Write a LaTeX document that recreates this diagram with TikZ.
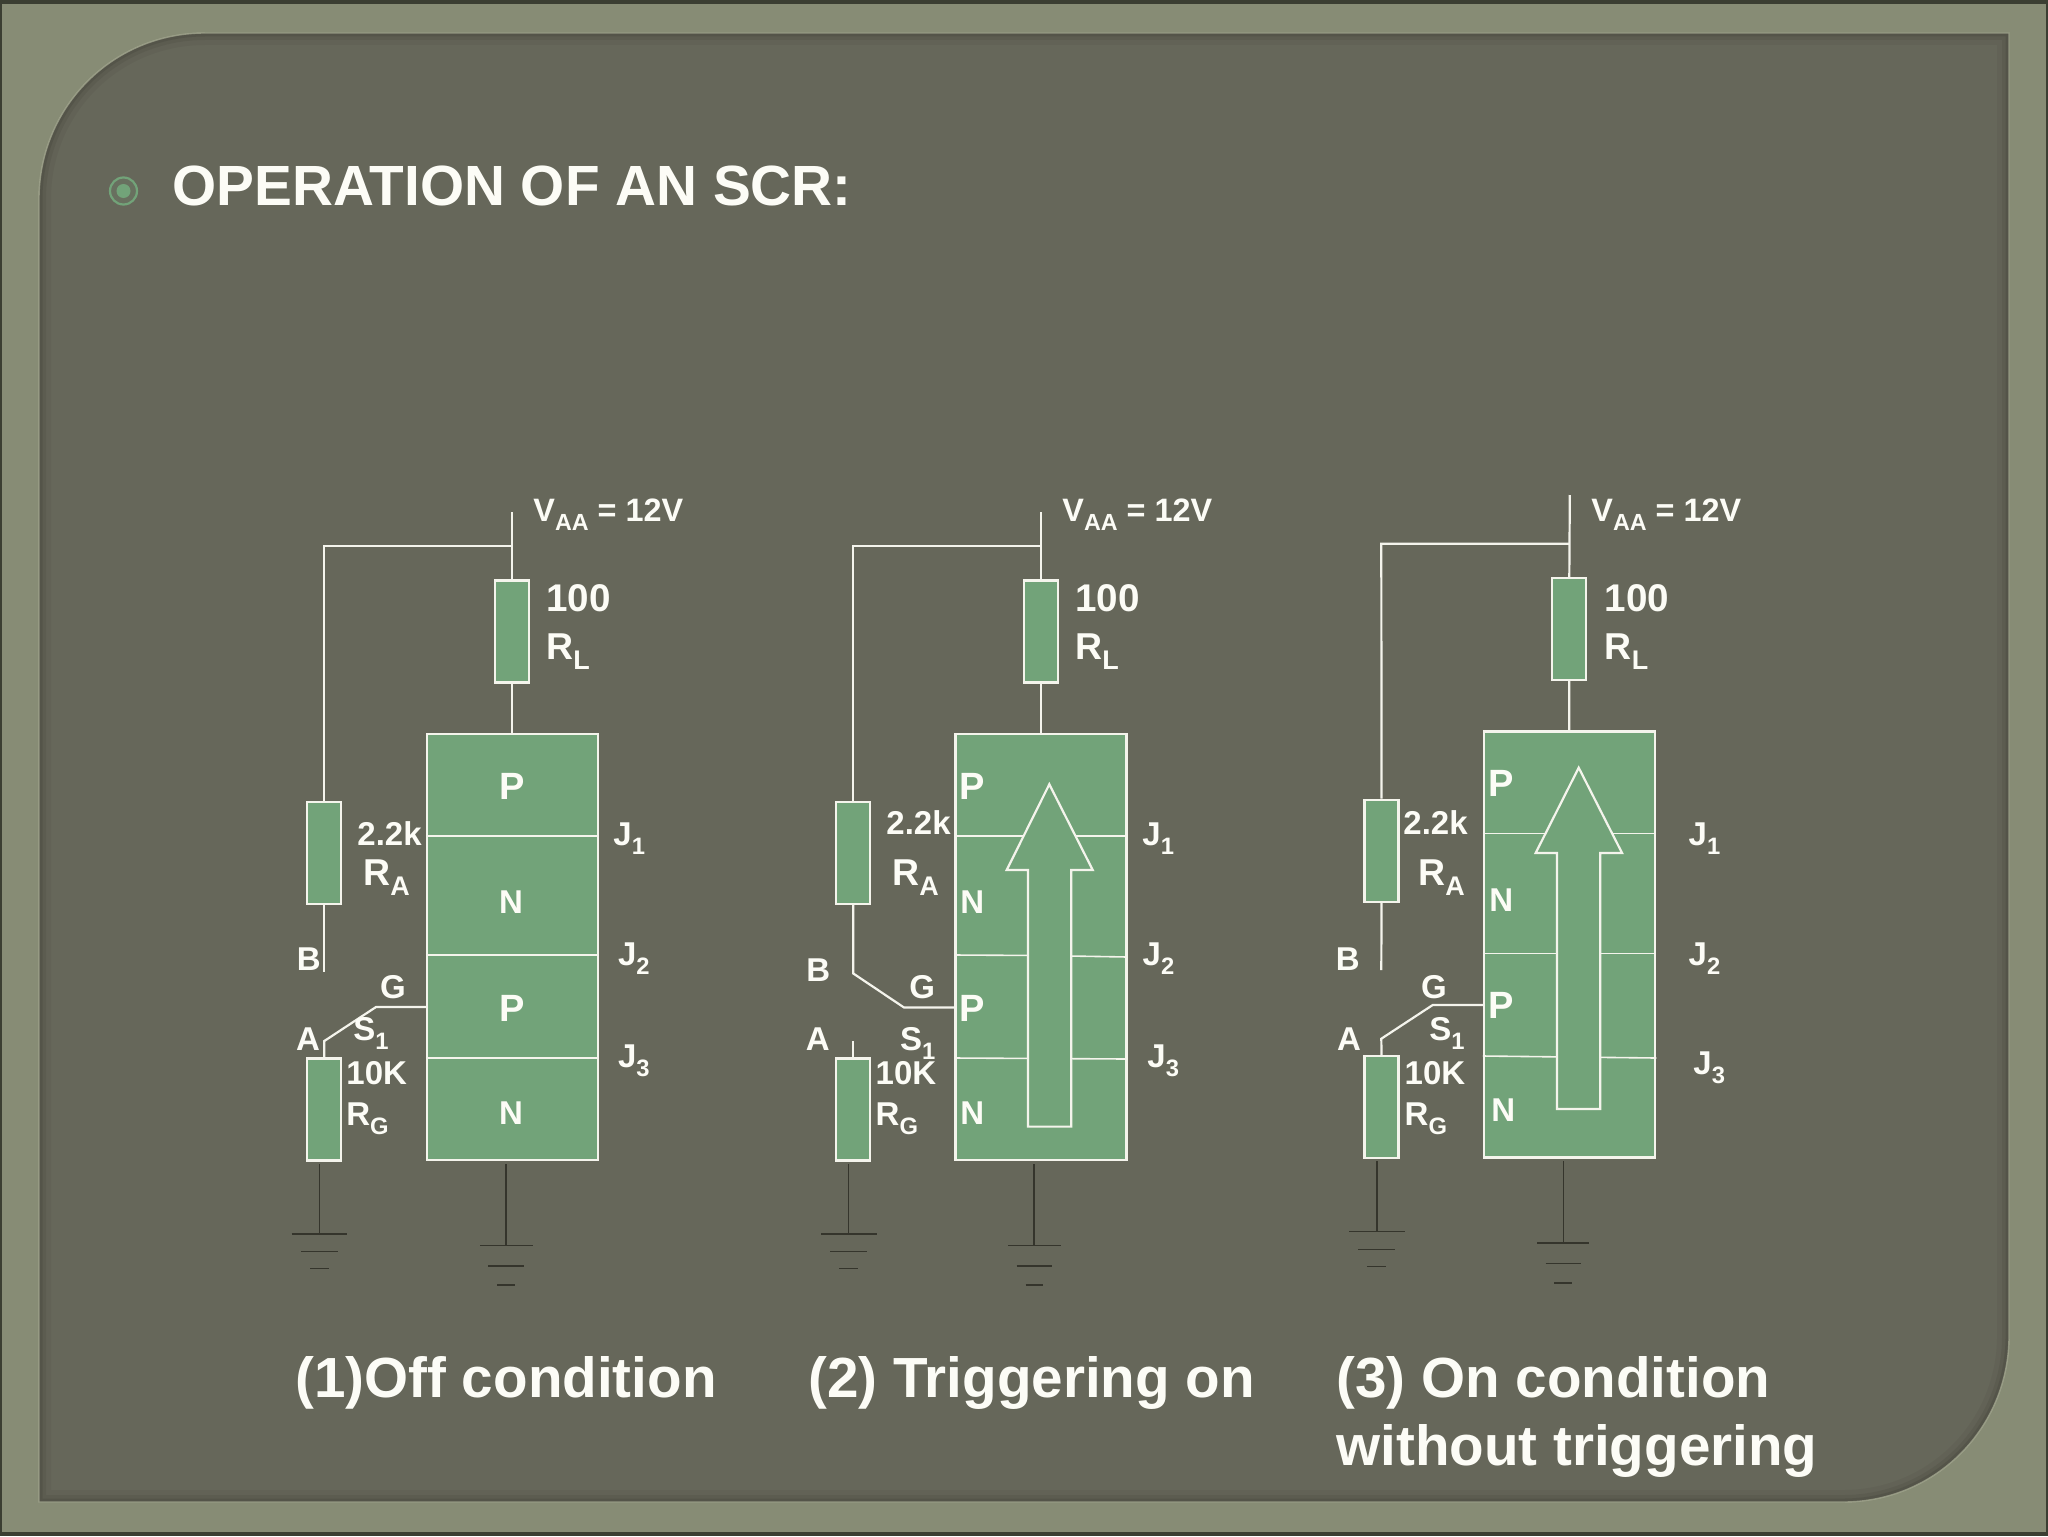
\documentclass[tikz,border=0pt]{standalone}
\usepackage{fontspec}
\usepackage{graphicx}
\setmainfont{Liberation Sans}
\definecolor{framec}{HTML}{878C75}
\definecolor{panelc}{HTML}{66675A}
\definecolor{edgec}{HTML}{A6AA92}
\definecolor{darkc}{HTML}{3B3E32}
\definecolor{greenc}{HTML}{72A379}
\definecolor{wirec}{HTML}{F4F4EC}
\definecolor{txtc}{HTML}{FCFCF6}
\definecolor{gndc}{HTML}{35352C}
\newcommand\lowtxt[1]{\raisebox{-.28em}{\scalebox{.72}{#1}}}
\newcommand\panelshape{(39,199) .. controls (39,107.3) and (112.3,33) .. (205,33) -- (2009,33) -- (2009,1336) .. controls (2009,1427.7) and (1935.7,1502) .. (1843,1502) -- (39,1502) -- cycle}
\tikzset{
  x=0.5pt,y=-0.5pt,
  wire/.style={draw=wirec,line width=1.1pt},
  thinline/.style={draw=wirec,line width=0.8pt},
  gnd/.style={draw=gndc,line width=0.55pt},
  res/.style={draw=wirec,fill=greenc,line width=1.1pt,inner sep=0pt,minimum width=17pt,minimum height=51pt},
  scrbox/.style={draw=wirec,fill=greenc,line width=1.2pt,inner sep=0pt,minimum width=85.5pt,minimum height=213pt},
  flow/.style={draw=wirec,fill=greenc,line width=1.1pt,line join=miter},
  lab/.style={anchor=base west,inner sep=0pt,text=txtc,font=\bfseries\fontsize{16.5}{18}\selectfont},
  supply/.style={lab,font=\bfseries\fontsize{16.2}{18}\selectfont},
  big/.style={lab,font=\bfseries\fontsize{19.3}{20}\selectfont},
  rname/.style={lab,font=\bfseries\fontsize{18.7}{20}\selectfont},
  layerp/.style={lab,font=\bfseries\fontsize{19}{20}\selectfont},
  layern/.style={lab,font=\bfseries\fontsize{16.5}{18}\selectfont},
  caption/.style={lab,font=\bfseries\fontsize{28.3}{32}\selectfont},
  heading/.style={lab,font=\bfseries\fontsize{28.35}{32}\selectfont},
}
\begin{document}
\begin{tikzpicture}
\useasboundingbox (0,0) rectangle (2048,1536);
% slide background
\fill[darkc] (0,0) rectangle (2048,1536);
\fill[framec] (2,4) rectangle (2046,1532);
\fill[panelc] \panelshape;
\begin{scope}
  \clip \panelshape;
  \draw[black,opacity=.04,line width=12pt] \panelshape;
  \draw[black,opacity=.06,line width=7pt] \panelshape;
  \draw[black,opacity=.08,line width=3.5pt] \panelshape;
\end{scope}
\draw[edgec,opacity=.75,line width=.7pt] \panelshape;
% bullet and title
\node[circle,draw=greenc,line width=1.1pt,fill=panelc!85!greenc,minimum size=13.5pt,inner sep=0pt] (bullet) at (123.5,191) {};
\node[circle,fill=greenc,minimum size=7pt,inner sep=0pt] (bulletdot) at (123.5,191) {};
\node[heading] (title) at (172,205) {OPERATION OF AN SCR:};

% ---------- panel 1 ----------
\coordinate (top1) at (512,512);
\coordinate (jun1) at (512,546);
\coordinate (cor1) at (324.3,546);
\coordinate (bt1) at (324.3,972);
\coordinate (at1) at (324.3,1041);
\coordinate (sw1) at (376,1007);
\node[res] (rl1) at (512,631.5) {};
\node[res] (ra1) at (324.3,853) {};
\node[res] (rg1) at (324.3,1109.5) {};
\node[scrbox] (scr1) at (512.5,947) {};
\draw[wire] (top1) -- (rl1.north) (rl1.south) -- (rl1.south |- scr1.north);
\draw[wire] (jun1) -- (cor1) -- (ra1.north);
\draw[wire] (ra1.south) -- (bt1);
\draw[wire] (rg1.north) -- (at1) -- (sw1) -- (scr1.west |- sw1);
\foreach \yy in {835.7,955,1058} \draw[thinline] (scr1.west |- 0,\yy) -- (scr1.east |- 0,\yy);
\coordinate (ga1) at (319.7,1164); \coordinate (ga1b) at (319.7,1234);
\coordinate (gb1) at (506,1164); \coordinate (gb1b) at (506,1245.5);
\draw[gnd] (ga1) -- (ga1b) (291.7,1234) -- (347,1234) (301,1251.4) -- (338,1251.4) (310,1268.6) -- (329,1268.6);
\draw[gnd] (gb1) -- (gb1b) (480,1245.5) -- (532.7,1245.5) (488,1266) -- (524,1266) (497,1285) -- (515,1285);
\node[supply] (vaa1) at (533,521) {V\lowtxt{AA} = 12V};
\node[big] (v100a) at (546,611) {100};
\node[rname] (rla) at (546,659.5) {R\lowtxt{L}};
\node[lab] (k22a) at (357,845) {2.2k};
\node[rname] (raa) at (363,885.5) {R\lowtxt{A}};
\node[lab] (ba) at (296.5,970) {B};
\node[lab] (ga) at (379.7,998) {G};
\node[lab] (aa) at (295.7,1050) {A};
\node[lab] (sa) at (353,1040) {S\lowtxt{1}};
\node[lab] (ka) at (346,1084) {10K};
\node[lab] (rga) at (346,1125.6) {R\lowtxt{G}};
\node[lab] (j1a) at (613,845) {J\lowtxt{1}};
\node[lab] (j2a) at (617.7,965) {J\lowtxt{2}};
\node[lab] (j3a) at (617.7,1067.7) {J\lowtxt{3}};
\node[layerp,anchor=base] (pa1) at (512,799) {P};
\node[layern,anchor=base] (na1) at (511,913) {N};
\node[layerp,anchor=base] (pa2) at (512,1021) {P};
\node[layern,anchor=base] (na2) at (511,1124) {N};

% ---------- panel 2 ----------
\coordinate (top2) at (1040.7,512);
\coordinate (jun2) at (1040.7,546);
\coordinate (cor2) at (853.3,546);
\coordinate (bt2) at (853.3,973.5);
\coordinate (at2) at (853.3,1041);
\coordinate (sw2) at (904,1007.5);
\node[res] (rl2) at (1040.7,631.5) {};
\node[res] (ra2) at (853.3,853) {};
\node[res] (rg2) at (853.3,1109.5) {};
\node[scrbox] (scr2) at (1041,947) {};
\draw[wire] (top2) -- (rl2.north) (rl2.south) -- (rl2.south |- scr2.north);
\draw[wire] (jun2) -- (cor2) -- (ra2.north);
\draw[wire] (ra2.south) -- (bt2) -- (sw2) -- (scr2.west |- sw2);
\draw[wire] (rg2.north) -- (at2);
\draw[thinline] (scr2.west |- 0,835.7) -- (scr2.east |- 0,835.7);
\draw[thinline] (scr2.west |- 0,955) -- (1040,955.5) -- (scr2.east |- 0,957);
\draw[thinline] (scr2.west |- 0,1058) -- (scr2.east |- 0,1059);
\draw[flow] (1049.3,784.3) -- (1092.7,870) -- (1071.3,870) -- (1071.3,1126.6) -- (1028,1126.6) -- (1028,870) -- (1006.7,870) -- cycle;
\coordinate (ga2) at (848.3,1164); \coordinate (ga2b) at (848.3,1234);
\coordinate (gb2) at (1034,1164); \coordinate (gb2b) at (1034,1245.5);
\draw[gnd] (ga2) -- (ga2b) (821,1234) -- (876.7,1234) (830,1251.4) -- (866.7,1251.4) (839,1268.6) -- (857.7,1268.6);
\draw[gnd] (gb2) -- (gb2b) (1008,1245.5) -- (1060.7,1245.5) (1016.7,1266) -- (1052.3,1266) (1025.7,1285) -- (1043.3,1285);
\node[supply] (vaa2) at (1062,521) {V\lowtxt{AA} = 12V};
\node[big] (v100b) at (1075,611) {100};
\node[rname] (rlb) at (1075,659.5) {R\lowtxt{L}};
\node[lab] (k22b) at (886,834.6) {2.2k};
\node[rname] (rab) at (892,885.5) {R\lowtxt{A}};
\node[lab] (bb) at (806,981) {B};
\node[lab] (gbl) at (909,998) {G};
\node[lab] (ab) at (805.5,1050) {A};
\node[lab] (sb) at (899.7,1050) {S\lowtxt{1}};
\node[lab] (kb) at (875.3,1084) {10K};
\node[lab] (rgb) at (875.3,1125.6) {R\lowtxt{G}};
\node[lab] (j1b) at (1142,845) {J\lowtxt{1}};
\node[lab] (j2b) at (1142.3,965) {J\lowtxt{2}};
\node[lab] (j3b) at (1147,1067.7) {J\lowtxt{3}};
\node[layerp] (pb1) at (959.5,799) {P};
\node[layern] (nb1) at (960,913) {N};
\node[layerp] (pb2) at (959.5,1021) {P};
\node[layern] (nb2) at (960,1124) {N};

% ---------- panel 3 ----------
\coordinate (top3) at (1569.8,495);
\coordinate (jun3) at (1569.3,543.8);
\coordinate (cor3) at (1381.3,543.8);
\coordinate (bt3) at (1381.3,970);
\coordinate (at3) at (1381.3,1038.7);
\coordinate (sw3) at (1432.7,1005);
\node[res] (rl3) at (1569.3,629) {};
\node[res] (ra3) at (1381.5,850.7) {};
\node[res] (rg3) at (1381.5,1107) {};
\node[scrbox] (scr3) at (1569.6,944.4) {};
\draw[wire] (top3) -- (rl3.north) (rl3.south) -- (rl3.south |- scr3.north);
\draw[wire] (jun3) -- (cor3) -- (ra3.north);
\draw[wire] (ra3.south) -- (bt3);
\draw[wire] (rg3.north) -- (at3) -- (sw3) -- (scr3.west |- sw3);
\draw[thinline] (scr3.west |- 0,833.6) -- (scr3.east |- 0,833.6);
\draw[thinline] (scr3.west |- 0,953.6) -- (scr3.east |- 0,953.6);
\draw[thinline] (scr3.west |- 0,1056) -- (scr3.east |- 0,1058);
\draw[flow] (1578.7,767.7) -- (1622,852.9) -- (1600.3,852.9) -- (1600.3,1109) -- (1557,1109) -- (1557,852.9) -- (1535.7,852.9) -- cycle;
\coordinate (ga3) at (1377,1161.4); \coordinate (ga3b) at (1377,1231.6);
\coordinate (gb3) at (1563.3,1161.4); \coordinate (gb3b) at (1563.3,1243);
\draw[gnd] (ga3) -- (ga3b) (1349.3,1231.6) -- (1404.7,1231.6) (1358.3,1249.3) -- (1395,1249.3) (1367.3,1266.5) -- (1386,1266.5);
\draw[gnd] (gb3) -- (gb3b) (1537,1243) -- (1589.3,1243) (1545.7,1263.3) -- (1580.7,1263.3) (1554.3,1283) -- (1572,1283);
\node[supply] (vaa3) at (1591,521) {V\lowtxt{AA} = 12V};
\node[big] (v100c) at (1604.5,611) {100};
\node[rname] (rlc) at (1604.5,659.5) {R\lowtxt{L}};
\node[lab] (k22c) at (1403,834.6) {2.2k};
\node[rname] (rac) at (1418,885.5) {R\lowtxt{A}};
\node[lab] (bc) at (1335.5,970) {B};
\node[lab] (gcl) at (1420.7,998) {G};
\node[lab] (ac) at (1336.7,1050) {A};
\node[lab] (sc) at (1429,1040) {S\lowtxt{1}};
\node[lab] (kc) at (1404.3,1084) {10K};
\node[lab] (rgc) at (1404.3,1125.6) {R\lowtxt{G}};
\node[lab] (j1c) at (1688.3,845) {J\lowtxt{1}};
\node[lab] (j2c) at (1688.3,965) {J\lowtxt{2}};
\node[lab] (j3c) at (1693,1074.7) {J\lowtxt{3}};
\node[layerp] (pc1) at (1488.5,796) {P};
\node[layern] (nc1) at (1489,911) {N};
\node[layerp] (pc2) at (1488.5,1018) {P};
\node[layern] (nc2) at (1491,1121.7) {N};

% captions
\node[caption] (cap1) at (295,1397) {(1)Off condition};
\node[caption] (cap2) at (808,1397) {(2) Triggering on};
\node[caption] (cap3) at (1336,1397) {(3) On condition};
\node[caption] (cap3b) at (1336,1465) {without triggering};
\end{tikzpicture}
\end{document}
